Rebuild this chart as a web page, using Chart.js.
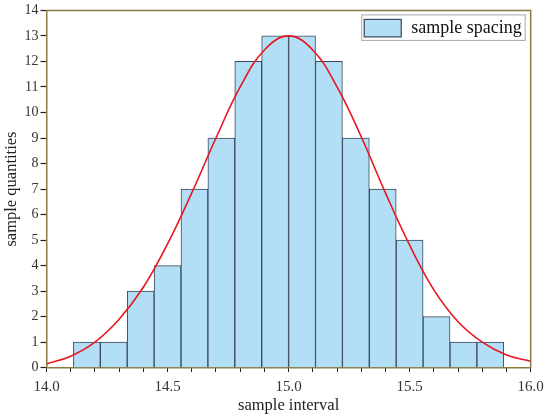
<!DOCTYPE html>
<html>
<head>
<meta charset="utf-8">
<script src="https://cdn.jsdelivr.net/npm/chart.js@4.4.1/dist/chart.umd.min.js"></script>
<style>
html,body{margin:0;padding:0;background:#fff;}
#c{display:block;}
</style>
</head>
<body>
<canvas id="c" width="550" height="419"></canvas>
<script>
// ---- data ----
const binCenters = [14.1667,14.2778,14.3889,14.5,14.6111,14.7222,14.8333,14.9444,15.0556,15.1667,15.2778,15.3889,15.5,15.6111,15.7222,15.8333];
const counts = [1,1,3,4,7,9,12,13,13,12,9,7,5,2,1,1];
const curveX = [14.0,14.1,14.2,14.3,14.4,14.5,14.6,14.7,14.8,14.9,15.0,15.1,15.2,15.3,15.4,15.5,15.6,15.7,15.8,15.9,16.0];
const curveY = [0.15,0.45,1.0,1.9,3.15,4.85,6.85,9.0,11.0,12.45,13.0,12.45,11.0,9.05,6.85,4.8,3.05,1.8,1.0,0.5,0.25];
const xTickLabels = ['14.0','14.5','15.0','15.5','16.0'];
const seriesLabel = 'sample spacing';
const xTitle = 'sample interval';
const yTitle = 'sample quantities';

const FRAME = '#8C7A45';
const SERIF = "'Liberation Serif','Times New Roman',serif";

const framePlugin = {
  id: 'frame',
  afterDatasetsDraw(chart) {
    const a = chart.chartArea, ctx = chart.ctx;
    ctx.save();
    ctx.strokeStyle = FRAME;
    ctx.lineWidth = 1.5;
    ctx.beginPath();
    ctx.moveTo(a.left, a.top);
    ctx.lineTo(a.right, a.top);
    ctx.lineTo(a.right, a.bottom);
    ctx.stroke();
    ctx.restore();
  }
};

const legendPlugin = {
  id: 'boxLegend',
  afterDraw(chart) {
    const a = chart.chartArea, ctx = chart.ctx;
    const ds = chart.data.datasets[1];
    ctx.save();
    ctx.font = '18px ' + SERIF;
    const tw = ctx.measureText(ds.label).width;
    const h = 26.5;
    const right = a.right - 5;
    const top = a.top + 4;
    const sw = 37, sh = 17.5;
    const w = 3 + sw + 10 + tw + 4;
    const left = right - w;
    ctx.fillStyle = '#fff';
    ctx.fillRect(left, top, w, h);
    ctx.strokeStyle = '#A8A8A8';
    ctx.lineWidth = 1;
    ctx.strokeRect(left + 0.5, top + 0.5, w - 1, h - 1);
    ctx.fillStyle = ds.backgroundColor;
    ctx.fillRect(left + 3, top + 5, sw, sh);
    ctx.strokeStyle = ds.borderColor;
    ctx.lineWidth = 1.2;
    ctx.strokeRect(left + 3, top + 5, sw, sh);
    ctx.fillStyle = '#111';
    ctx.textBaseline = 'middle';
    ctx.textAlign = 'left';
    ctx.fillText(ds.label, left + 3 + sw + 10, top + h / 2 + 0.5);
    ctx.restore();
  }
};

new Chart(document.getElementById('c'), {
  data: {
    datasets: [
      {
        type: 'line',
        label: 'fit',
        data: curveX.map((x, i) => ({x: x, y: curveY[i]})),
        borderColor: '#E8161E',
        borderWidth: 1.6,
        pointRadius: 0,
        tension: 0.4,
        fill: false,
        order: 0
      },
      {
        type: 'bar',
        label: seriesLabel,
        data: binCenters.map((x, i) => ({x: x, y: counts[i]})),
        backgroundColor: '#B3DFF6',
        borderColor: '#3A4757',
        borderWidth: 1,
        categoryPercentage: 1,
        barPercentage: 1,
        order: 1
      }
    ]
  },
  options: {
    responsive: false,
    animation: false,
    devicePixelRatio: 1,
    layout: {padding: {left: 0, right: 19.3, top: 8.3, bottom: 0}},
    plugins: {
      legend: {display: false},
      tooltip: {enabled: false}
    },
    scales: {
      x: {
        type: 'linear',
        min: 14,
        max: 16,
        offset: false,
        ticks: {
          stepSize: 0.5,
          autoSkip: false,
          maxRotation: 0,
          padding: 6,
          color: '#333',
          font: {family: SERIF, size: 15},
          callback: function(v) {
            const s = (Math.round(v * 10) / 10).toFixed(1);
            return xTickLabels.indexOf(s) >= 0 ? s : '';
          }
        },
        grid: {drawOnChartArea: false, offset: false, tickLength: 4, color: '#222', tickWidth: 1},
        border: {color: FRAME, width: 1.5},
        title: {display: true, text: xTitle, color: '#222', font: {family: SERIF, size: 16.5}, padding: {top: 0, bottom: 3}},
        afterFit(s) { s.height = 51.3; }
      },
      xm: {
        type: 'linear',
        axis: 'x',
        min: 14,
        max: 16,
        offset: false,
        position: {y: 0},
        ticks: {display: false, stepSize: 0.1, autoSkip: false},
        grid: {drawOnChartArea: false, offset: false, tickLength: 4, color: '#222', tickWidth: 1},
        border: {display: false}
      },
      y: {
        min: 0,
        max: 14,
        ticks: {stepSize: 1, padding: 2, color: '#333', font: {family: SERIF, size: 14}},
        grid: {drawOnChartArea: false, tickLength: 6, color: '#222', tickWidth: 1.2},
        border: {color: FRAME, width: 1.5},
        title: {display: true, text: yTitle, color: '#222', font: {family: SERIF, size: 16.5}, padding: {top: 2, bottom: 0}},
        afterFit(s) { s.width = 46.5; }
      }
    }
  },
  plugins: [framePlugin, legendPlugin]
});
</script>
</body>
</html>
